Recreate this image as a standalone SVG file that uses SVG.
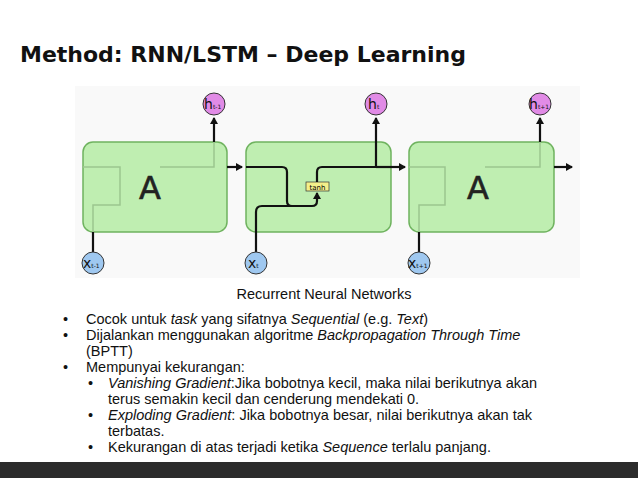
<svg xmlns="http://www.w3.org/2000/svg" width="638" height="478" viewBox="0 0 638 478">
<defs>
<marker id="ar" markerWidth="8" markerHeight="8" refX="6" refY="4" orient="auto" markerUnits="userSpaceOnUse"><path d="M0,0 L7,4 L0,8 z" fill="#111"/></marker>
<style>
.cell{fill:#b5eca5;fill-opacity:.85;stroke:#6fb35f;stroke-width:1.5}
.ghost{fill:none;stroke:#9cc68f;stroke-width:1.5}
.w{fill:none;stroke:#111;stroke-width:2.2}
.h{fill:#e18be6;stroke:#333;stroke-width:1}
.x{fill:#9fc8f0;stroke:#333;stroke-width:1}
.ct{font-family:'DejaVu Sans',sans-serif;font-size:14px;fill:#111}
.t{font-family:'Liberation Sans',Arial,sans-serif;font-size:14.5px;fill:#111}
.A{font-family:'DejaVu Sans',sans-serif;font-size:32px;fill:#222;stroke:#222;stroke-width:.6}
</style>
</defs>
<rect width="638" height="478" fill="#fff"/>
<text x="20" y="62" font-family="'DejaVu Sans',sans-serif" font-weight="bold" font-size="22" fill="#111">Method: RNN/LSTM – Deep Learning</text>
<rect x="75" y="86" width="505" height="192" fill="#f9f9f9"/>
<g id="cell1"><rect class="cell" x="83" y="142" width="144" height="90" rx="10"/><path class="ghost" d="M83,167 H120 V205 H93 V232 M214,142 V167 H160"/><text class="A" x="150" y="199" text-anchor="middle">A</text></g>
<g id="cell2"><rect class="cell" x="246" y="142" width="145" height="90" rx="10"/><rect x="306" y="182" width="23" height="9" fill="#f4f08a" stroke="#333" stroke-width=".7"/><text x="317.5" y="189.5" text-anchor="middle" font-family="'DejaVu Sans',sans-serif" font-size="7">tanh</text></g>
<g id="cell3"><rect class="cell" x="409" y="142" width="145" height="90" rx="10"/><path class="ghost" d="M409,167 H445 V205 H419 V232 M540,142 V167 H485"/><text class="A" x="478" y="199" text-anchor="middle">A</text></g>
<g id="connectors">
<path class="w" d="M214,142 V118" marker-end="url(#ar)"/>
<path class="w" d="M227,167 H242" marker-end="url(#ar)"/>
<path class="w" d="M246,167 H282 Q287,167 287,172 V201 Q287,206 292,206 H312 Q317,206 317,201 V193" marker-end="url(#ar)"/>
<path class="w" d="M256,252 V212 Q256,206 262,206 H292"/>
<path class="w" d="M317,182 V172 Q317,167 322,167 H376 V118" marker-end="url(#ar)"/>
<path class="w" d="M376,167 H405" marker-end="url(#ar)"/>
<path class="w" d="M540,142 V118" marker-end="url(#ar)"/>
<path class="w" d="M554,167 H572" marker-end="url(#ar)"/>
<path class="w" d="M93,252 V232 M419,252 V232"/>
</g>
<g id="h1"><circle class="h" cx="214" cy="104" r="11"/><text class="ct" x="204" y="109">h<tspan font-size="6">t-1</tspan></text></g>
<g id="h2"><circle class="h" cx="376" cy="104" r="11"/><text class="ct" x="368" y="109">h<tspan font-size="6">t</tspan></text></g>
<g id="h3"><circle class="h" cx="540" cy="104" r="11"/><text class="ct" x="529" y="109">h<tspan font-size="6">t+1</tspan></text></g>
<g id="x1"><circle class="x" cx="93" cy="263" r="11"/><text class="ct" x="83" y="268">x<tspan font-size="6">t-1</tspan></text></g>
<g id="x2"><circle class="x" cx="256" cy="263" r="11"/><text class="ct" x="248" y="268">x<tspan font-size="6">t</tspan></text></g>
<g id="x3"><circle class="x" cx="419" cy="263" r="11"/><text class="ct" x="408" y="268">x<tspan font-size="6">t+1</tspan></text></g>
<text class="t" x="324" y="299" text-anchor="middle">Recurrent Neural Networks</text>
<g>
<text class="t" x="63" y="324">•</text><text class="t" x="86" y="324">Cocok untuk <tspan font-style="italic">task</tspan> yang sifatnya <tspan font-style="italic">Sequential</tspan> (e.g. <tspan font-style="italic">Text</tspan>)</text>
<text class="t" x="63" y="340">•</text><text class="t" x="86" y="340">Dijalankan menggunakan algoritme <tspan font-style="italic">Backpropagation Through Time</tspan></text>
<text class="t" x="86" y="356">(BPTT)</text>
<text class="t" x="63" y="372">•</text><text class="t" x="86" y="372">Mempunyai kekurangan:</text>
<text class="t" x="88" y="388">•</text><text class="t" x="108" y="388"><tspan font-style="italic">Vanishing Gradient</tspan>:Jika bobotnya kecil, maka nilai berikutnya akan</text>
<text class="t" x="108" y="404">terus semakin kecil dan cenderung mendekati 0.</text>
<text class="t" x="88" y="420">•</text><text class="t" x="108" y="420"><tspan font-style="italic">Exploding Gradient</tspan>: Jika bobotnya besar, nilai berikutnya akan tak</text>
<text class="t" x="108" y="436">terbatas.</text>
<text class="t" x="88" y="452">•</text><text class="t" x="108" y="452">Kekurangan di atas terjadi ketika <tspan font-style="italic">Sequence</tspan> terlalu panjang.</text>
</g>
<rect x="0" y="462" width="638" height="16" fill="#2b2b2b"/>
</svg>
